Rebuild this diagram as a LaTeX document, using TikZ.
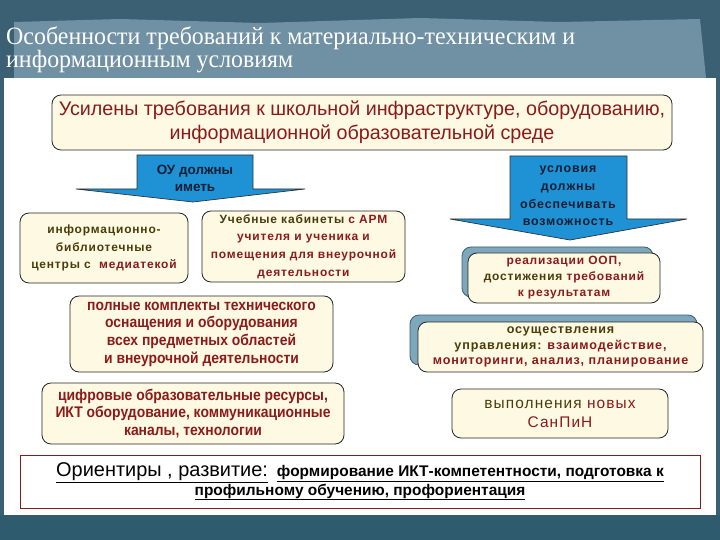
\documentclass[tikz,border=0pt]{standalone}
\usepackage{fontspec}
\setmainfont{Liberation Sans}
\newfontfamily\titlefont[FakeStretch=0.96]{Liberation Serif}
\newfontfamily\spaced[LetterSpace=7]{Liberation Sans}
\newfontfamily\narrow[FakeStretch=0.9]{Liberation Sans}
\definecolor{hdark}{HTML}{3B5F73}
\definecolor{hlight}{HTML}{7090A3}
\definecolor{frame}{HTML}{2F5B6E}
\definecolor{dred}{HTML}{8B1A1A}
\definecolor{olive}{HTML}{4A3C0A}
\definecolor{cream}{HTML}{FDF9E3}
\definecolor{arrowblue}{HTML}{1E92D4}
\definecolor{shadowblue}{HTML}{7FA7BB}
\definecolor{navy}{HTML}{0F1E33}
\tikzset{
  x=1bp, y=-1bp,
  box/.style={draw=black!85, line width=0.8bp, fill=cream, rounded corners=9bp, align=center, inner sep=0pt},
  shadowbox/.style={draw=hdark, line width=0.8bp, fill=shadowblue, rounded corners=9bp},
  blarrow/.style={draw=black!80, line width=0.7bp, fill=arrowblue},
  arrowtext/.style={align=center, text=navy, inner sep=0pt},
}
\begin{document}
\begin{tikzpicture}
\useasboundingbox (0,0) rectangle (720,540);
% frame and header
\fill[hdark] (0,0) rectangle (720,540);
\fill[hlight] (14,22) -- (120,19) -- (260,23) -- (420,18) -- (560,22) -- (700,19) -- (706,78) -- (14,78) -- cycle;
\fill[white] (4,78) rectangle (716,515);
\fill[frame] (0,515) rectangle (720,540);
\node[anchor=base west, text=white, font=\titlefont\fontsize{25}{25}\selectfont, inner sep=0pt] (t1) at (6,45) {Особенности требований к материально-техническим и};
\node[anchor=base west, text=white, font=\titlefont\fontsize{25}{25}\selectfont, inner sep=0pt] (t2) at (6,68) {информационным условиям};

% top box
\node[box, minimum width=620bp, minimum height=55bp, text=dred, font=\fontsize{19.8}{24}\selectfont] (top) at (362,122.5)
  {Усилены требования к школьной инфраструктуре, оборудованию,\\информационной образовательной среде};

% left arrow
\draw[blarrow] (137,155) -- (253,155) -- (253,189) -- (305,189) -- (193,202) -- (76,189) -- (137,189) -- cycle;
\node[arrowtext, font=\bfseries\fontsize{13.5}{17}\selectfont] (la) at (195,178) {ОУ должны\\иметь};

% right arrow
\draw[blarrow] (510,156) -- (627,156) -- (627,219) -- (687,219) -- (570,240) -- (450,219) -- (510,219) -- cycle;
\node[arrowtext, font=\spaced\bfseries\fontsize{12.5}{17.7}\selectfont] (ra) at (568,196) {условия\\должны\\обеспечивать\\возможность};

% left boxes
\node[box, minimum width=168bp, minimum height=70bp, font=\spaced\bfseries\fontsize{12}{17.5}\selectfont, text=olive] (b1) at (104,248)
  {информационно-\\библиотечные\\центры с \ \textcolor{dred}{медиатекой}};
\node[box, minimum width=203bp, minimum height=71bp, font=\spaced\bfseries\fontsize{12}{17.7}\selectfont, text=dred] (b2) at (303.5,246.5)
  {\textcolor{olive}{Учебные кабинеты} с АРМ\\учителя и ученика и\\помещения для внеурочной\\деятельности};
\node[box, minimum width=263bp, minimum height=76bp, font=\narrow\bfseries\fontsize{15.5}{17.7}\selectfont, text=dred] (b3) at (201.5,334)
  {полные комплекты технического\\оснащения и оборудования\\всех предметных областей\\и внеурочной деятельности};
\node[box, minimum width=302bp, minimum height=61bp, font=\narrow\bfseries\fontsize{15.5}{17.5}\selectfont, text=dred] (b4) at (193,413.5)
  {цифровые образовательные ресурсы,\\ИКТ оборудование, коммуникационные\\каналы, технологии};

% right boxes
\draw[shadowbox] (462,247) rectangle (653,297);
\node[box, minimum width=192bp, minimum height=50bp, font=\spaced\bfseries\fontsize{12}{16}\selectfont, text=dred] (r1) at (564,278)
  {реализации ООП,\\\textcolor{olive}{достижения} требований\\к результатам};
\draw[shadowbox] (410,315) rectangle (697,365);
\node[box, minimum width=285bp, minimum height=50bp, font=\spaced\bfseries\fontsize{12.6}{15.5}\selectfont, text=dred] (r2) at (560.5,347)
  {\textcolor{olive}{осуществления}\\\textcolor{olive}{управления:} взаимодействие,\\мониторинги, анализ, планирование};
\node[box, minimum width=216bp, minimum height=49bp, font=\spaced\fontsize{15.5}{19}\selectfont, text=dred] (r3) at (560,413.5)
  {\textcolor{olive}{выполнения} новых\\СанПиН};

% bottom box
\node[draw=dred, line width=0.8bp, fill=white, minimum width=680bp, minimum height=53bp, align=center, inner sep=0pt] (bot) at (360,481.5)
  {{\fontsize{20}{23}\selectfont\underline{Ориентиры , развитие:}}\hspace{9bp}%
   {\bfseries\fontsize{15.5}{23}\selectfont\underline{формирование ИКТ-компетентности, подготовка к}}\\[0bp]
   {\bfseries\fontsize{15.5}{23}\selectfont\underline{профильному обучению, профориентация}}};
\end{tikzpicture}
\end{document}
